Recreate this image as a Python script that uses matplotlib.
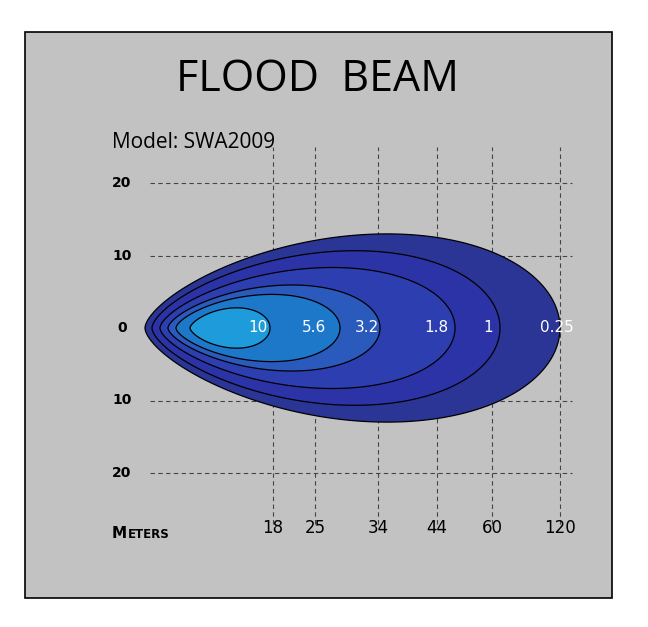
import numpy as np
import matplotlib
matplotlib.use("Agg")
import matplotlib.pyplot as plt
from matplotlib.patches import Rectangle

distance_labels = ["18", "25", "34", "44", "60", "120"]
distance_pos = [273, 315, 378, 437, 492, 560]
y_ticks = [20, 10, 0, -10, -20]
y_tick_labels = ["20", "10", "0", "10", "20"]
lux_labels = ["0.25", "1", "1.8", "3.2", "5.6", "10"]
lux_label_x = [557, 488, 436, 367, 314, 258]
beam_left = [145, 152, 160, 168, 176, 190]
beam_right = [560, 500, 455, 380, 340, 270]
beam_half = [14.0, 11.5, 9.0, 6.4, 5.0, 3.0]
beam_colors = ["#2B3596", "#2C33A6", "#2D3FB0", "#2A5ABC", "#1E78CA", "#1E9BDA"]

fig = plt.figure(figsize=(6.48, 6.27), dpi=100)
ax = fig.add_axes([0, 0, 1, 1])
ax.set_xlim(0, 648)
ax.set_ylim(-(627 - 328) / 7.25, 328 / 7.25)
ax.axis("off")
ppu = 7.25
ax.add_patch(Rectangle((25, (328 - 598) / ppu), 587, 566 / ppu,
                       facecolor="#C2C2C2", edgecolor="black", lw=1.2, zorder=0))

for yv in y_ticks:
    if yv != 0:
        ax.plot([150, 572], [yv, yv], ls=(0, (4, 3)), color="#444444", lw=0.8, zorder=1)
for xv in distance_pos:
    ax.plot([xv, xv], [-27, 25], ls=(0, (4, 3)), color="#444444", lw=0.8, zorder=1)

th = np.linspace(0, 2 * np.pi, 400)
for l, r, h, c in zip(beam_left, beam_right, beam_half, beam_colors):
    cx = (l + r) / 2; a = (r - l) / 2
    x = cx + a * np.cos(th)
    k = 0.3
    y = h * np.sin(th) * (k + (1 - k) * ((1 + np.cos(th)) / 2) ** 0.3) * 1.05
    ax.fill(x, y, facecolor=c, edgecolor="black", lw=0.9, zorder=2)

for t, xv in zip(lux_labels, lux_label_x):
    ax.text(xv, 0, t, color="white", fontsize=11, ha="center", va="center", zorder=3)

for yv, t in zip(y_ticks, y_tick_labels):
    ax.text(122, yv, t, fontsize=10, fontweight="bold", ha="center", va="center")
for xv, t in zip(distance_pos, distance_labels):
    ax.text(xv, (328 - 528) / ppu, t, fontsize=12, ha="center", va="center")
ax.text(112, (328 - 533) / ppu, "M", fontsize=11, fontweight="bold", ha="left", va="center")
ax.text(128, (328 - 534) / ppu, "ETERS", fontsize=8.5, fontweight="bold", ha="left", va="center")

ax.text(318, (328 - 80) / ppu, "FLOOD  BEAM", fontsize=31, ha="center", va="center", family="Open Sans")
ax.text(112, (328 - 143) / ppu, "Model: SWA2009", fontsize=15, ha="left", va="center", family="Open Sans")

fig.savefig("out.png", dpi=100)
